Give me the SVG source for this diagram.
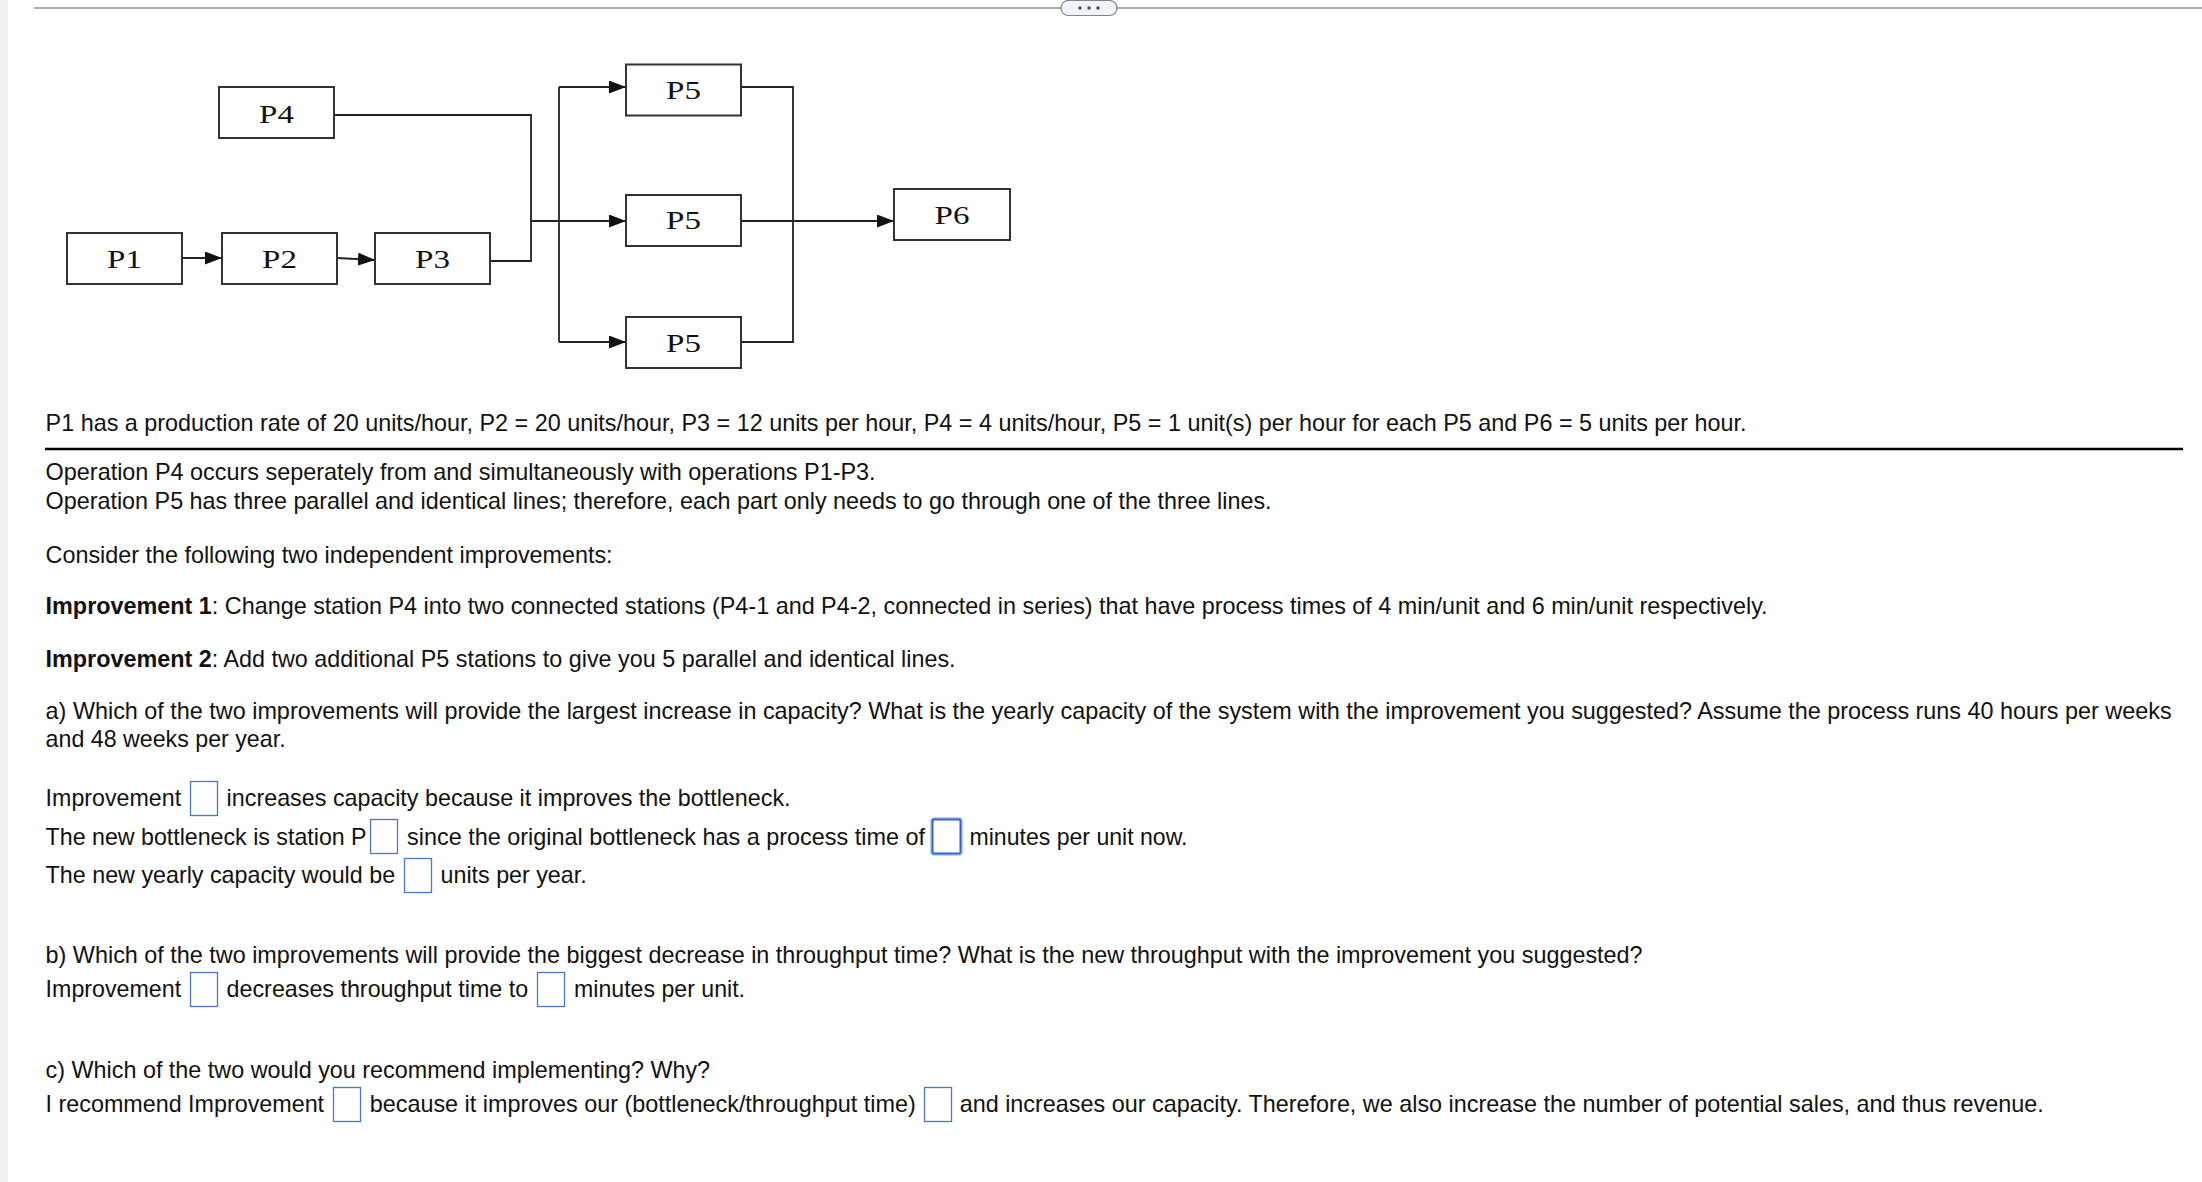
<svg xmlns="http://www.w3.org/2000/svg" width="2202" height="1182" viewBox="0 0 2202 1182">
<defs>
<style>
.box{fill:#fff;stroke:#333;stroke-width:2}
.lbl{font-family:"Liberation Serif","Times New Roman",serif;font-size:26px;fill:#111;text-anchor:middle}
.wire{fill:none;stroke:#222;stroke-width:1.8}
.t{font-family:"Liberation Sans",Arial,sans-serif;font-size:23.2px;fill:#111}
.b{font-weight:bold}
.inp{fill:#fff;stroke:#4a76cc;stroke-width:1.3}
.inpf{fill:#fff;stroke:#2f62d6;stroke-width:2}
.glow{fill:none;stroke:#6a95ee;stroke-opacity:0.45;stroke-width:5}
</style>
<marker id="ah" markerUnits="userSpaceOnUse" markerWidth="17" markerHeight="13" refX="17" refY="6.5" orient="auto">
<path d="M0,0 L17,6.5 L0,13 z" fill="#111"/>
</marker>
</defs>
<rect x="0" y="0" width="2202" height="1182" fill="#fff"/>
<rect x="0" y="0" width="8" height="1182" fill="#eff0f2"/>
<g id="topbar">
<line x1="34" y1="8" x2="1061" y2="8" stroke="#8b95a5" stroke-width="1.5"/>
<line x1="1117" y1="8" x2="2202" y2="8" stroke="#8b95a5" stroke-width="1.5"/>
<rect x="1061" y="0.5" width="56" height="15" rx="7.5" fill="#f1f3f6" stroke="#7a8494" stroke-width="1.2"/>
<circle cx="1080" cy="8" r="1.8" fill="#4a5260"/>
<circle cx="1089" cy="8" r="1.8" fill="#4a5260"/>
<circle cx="1098" cy="8" r="1.8" fill="#4a5260"/>
</g>
<g id="connectors">
<line class="wire" x1="182" y1="258" x2="222" y2="258" marker-end="url(#ah)"/>
<line class="wire" x1="337" y1="258" x2="375" y2="260" marker-end="url(#ah)"/>
<polyline class="wire" points="334,115 531,115 531,221"/>
<polyline class="wire" points="490,261 531,261 531,221"/>
<line class="wire" x1="531" y1="221" x2="626" y2="221" marker-end="url(#ah)"/>
<line class="wire" x1="559" y1="87" x2="559" y2="342"/>
<line class="wire" x1="559" y1="87" x2="626" y2="87" marker-end="url(#ah)"/>
<line class="wire" x1="559" y1="342" x2="626" y2="342" marker-end="url(#ah)"/>
<polyline class="wire" points="741,87 793,87 793,342 741,342"/>
<line class="wire" x1="741" y1="221" x2="894" y2="221" marker-end="url(#ah)"/>
</g>
<g id="P1"><rect class="box" x="67" y="233" width="115" height="51"/><text class="lbl" transform="translate(124.5,268) scale(1.27,1)">P1</text></g>
<g id="P2"><rect class="box" x="222" y="233" width="115" height="51"/><text class="lbl" transform="translate(279.5,268) scale(1.27,1)">P2</text></g>
<g id="P3"><rect class="box" x="375" y="233" width="115" height="51"/><text class="lbl" transform="translate(432.5,268) scale(1.27,1)">P3</text></g>
<g id="P4"><rect class="box" x="219" y="87" width="115" height="51"/><text class="lbl" transform="translate(276.5,122.5) scale(1.27,1)">P4</text></g>
<g id="P5a"><rect class="box" x="626" y="64.5" width="115" height="51"/><text class="lbl" transform="translate(683.5,99) scale(1.27,1)">P5</text></g>
<g id="P5b"><rect class="box" x="626" y="195" width="115" height="51"/><text class="lbl" transform="translate(683.5,229) scale(1.27,1)">P5</text></g>
<g id="P5c"><rect class="box" x="626" y="317" width="115" height="51"/><text class="lbl" transform="translate(683.5,352) scale(1.27,1)">P5</text></g>
<g id="P6"><rect class="box" x="894" y="189" width="116" height="51"/><text class="lbl" transform="translate(952,224) scale(1.27,1)">P6</text></g>
<g id="text">
<text class="t" x="45.6" y="431" textLength="1701" lengthAdjust="spacingAndGlyphs">P1 has a production rate of 20 units/hour, P2 = 20 units/hour, P3 = 12 units per hour, P4 = 4 units/hour, P5 = 1 unit(s) per hour for each P5 and P6 = 5 units per hour.</text>
<line x1="45" y1="449" x2="2183" y2="449" stroke="#000" stroke-width="2.4"/>
<text class="t" x="45.6" y="480" textLength="830" lengthAdjust="spacingAndGlyphs">Operation P4 occurs seperately from and simultaneously with operations P1-P3.</text>
<text class="t" x="45.6" y="509" textLength="1226" lengthAdjust="spacingAndGlyphs">Operation P5 has three parallel and identical lines; therefore, each part only needs to go through one of the three lines.</text>
<text class="t" x="45.6" y="563" textLength="567" lengthAdjust="spacingAndGlyphs">Consider the following two independent improvements:</text>
<text class="t" x="45.6" y="614" textLength="1722" lengthAdjust="spacingAndGlyphs"><tspan class="b">Improvement 1</tspan>: Change station P4 into two connected stations (P4-1 and P4-2, connected in series) that have process times of 4 min/unit and 6 min/unit respectively.</text>
<text class="t" x="45.6" y="667" textLength="910" lengthAdjust="spacingAndGlyphs"><tspan class="b">Improvement 2</tspan>: Add two additional P5 stations to give you 5 parallel and identical lines.</text>
<text class="t" x="45.6" y="719" textLength="2126" lengthAdjust="spacingAndGlyphs">a) Which of the two improvements will provide the largest increase in capacity? What is the yearly capacity of the system with the improvement you suggested? Assume the process runs 40 hours per weeks</text>
<text class="t" x="45.6" y="747" textLength="240" lengthAdjust="spacingAndGlyphs">and 48 weeks per year.</text>
<text class="t" x="45.6" y="806" textLength="135.5" lengthAdjust="spacingAndGlyphs">Improvement</text>
<text class="t" x="226.6" y="806" textLength="564" lengthAdjust="spacingAndGlyphs">increases capacity because it improves the bottleneck.</text>
<text class="t" x="45.6" y="845" textLength="321" lengthAdjust="spacingAndGlyphs">The new bottleneck is station P</text>
<text class="t" x="407" y="845" textLength="518" lengthAdjust="spacingAndGlyphs">since the original bottleneck has a process time of</text>
<text class="t" x="969.5" y="845" textLength="218" lengthAdjust="spacingAndGlyphs">minutes per unit now.</text>
<text class="t" x="45.6" y="883" textLength="349.5" lengthAdjust="spacingAndGlyphs">The new yearly capacity would be</text>
<text class="t" x="440.6" y="883" textLength="146" lengthAdjust="spacingAndGlyphs">units per year.</text>
<text class="t" x="45.6" y="963" textLength="1597" lengthAdjust="spacingAndGlyphs">b) Which of the two improvements will provide the biggest decrease in throughput time? What is the new throughput with the improvement you suggested?</text>
<text class="t" x="45.6" y="997" textLength="135.5" lengthAdjust="spacingAndGlyphs">Improvement</text>
<text class="t" x="226.6" y="997" textLength="301.5" lengthAdjust="spacingAndGlyphs">decreases throughput time to</text>
<text class="t" x="574" y="997" textLength="171" lengthAdjust="spacingAndGlyphs">minutes per unit.</text>
<text class="t" x="45.6" y="1078" textLength="664.5" lengthAdjust="spacingAndGlyphs">c) Which of the two would you recommend implementing? Why?</text>
<text class="t" x="45.6" y="1112" textLength="278.5" lengthAdjust="spacingAndGlyphs">I recommend Improvement</text>
<text class="t" x="369.7" y="1112" textLength="546" lengthAdjust="spacingAndGlyphs">because it improves our (bottleneck/throughput time)</text>
<text class="t" x="959.7" y="1112" textLength="1084" lengthAdjust="spacingAndGlyphs">and increases our capacity. Therefore, we also increase the number of potential sales, and thus revenue.</text>
</g>
<g id="inputs">
<rect class="inp" x="190.5" y="781.5" width="27" height="34"/>
<rect class="inp" x="370.5" y="819.5" width="27" height="34"/>
<rect class="glow" x="932.5" y="819.5" width="28" height="34" rx="1.5"/>
<rect class="inpf" x="932.5" y="819.5" width="28" height="34" rx="1.5"/>
<rect class="inp" x="404.5" y="858.5" width="27" height="34"/>
<rect class="inp" x="190.5" y="972.5" width="27" height="34"/>
<rect class="inp" x="537.5" y="972.5" width="27" height="34"/>
<rect class="inp" x="333.5" y="1087.5" width="27" height="34"/>
<rect class="inp" x="924.5" y="1087.5" width="27" height="34"/>
</g>
</svg>
